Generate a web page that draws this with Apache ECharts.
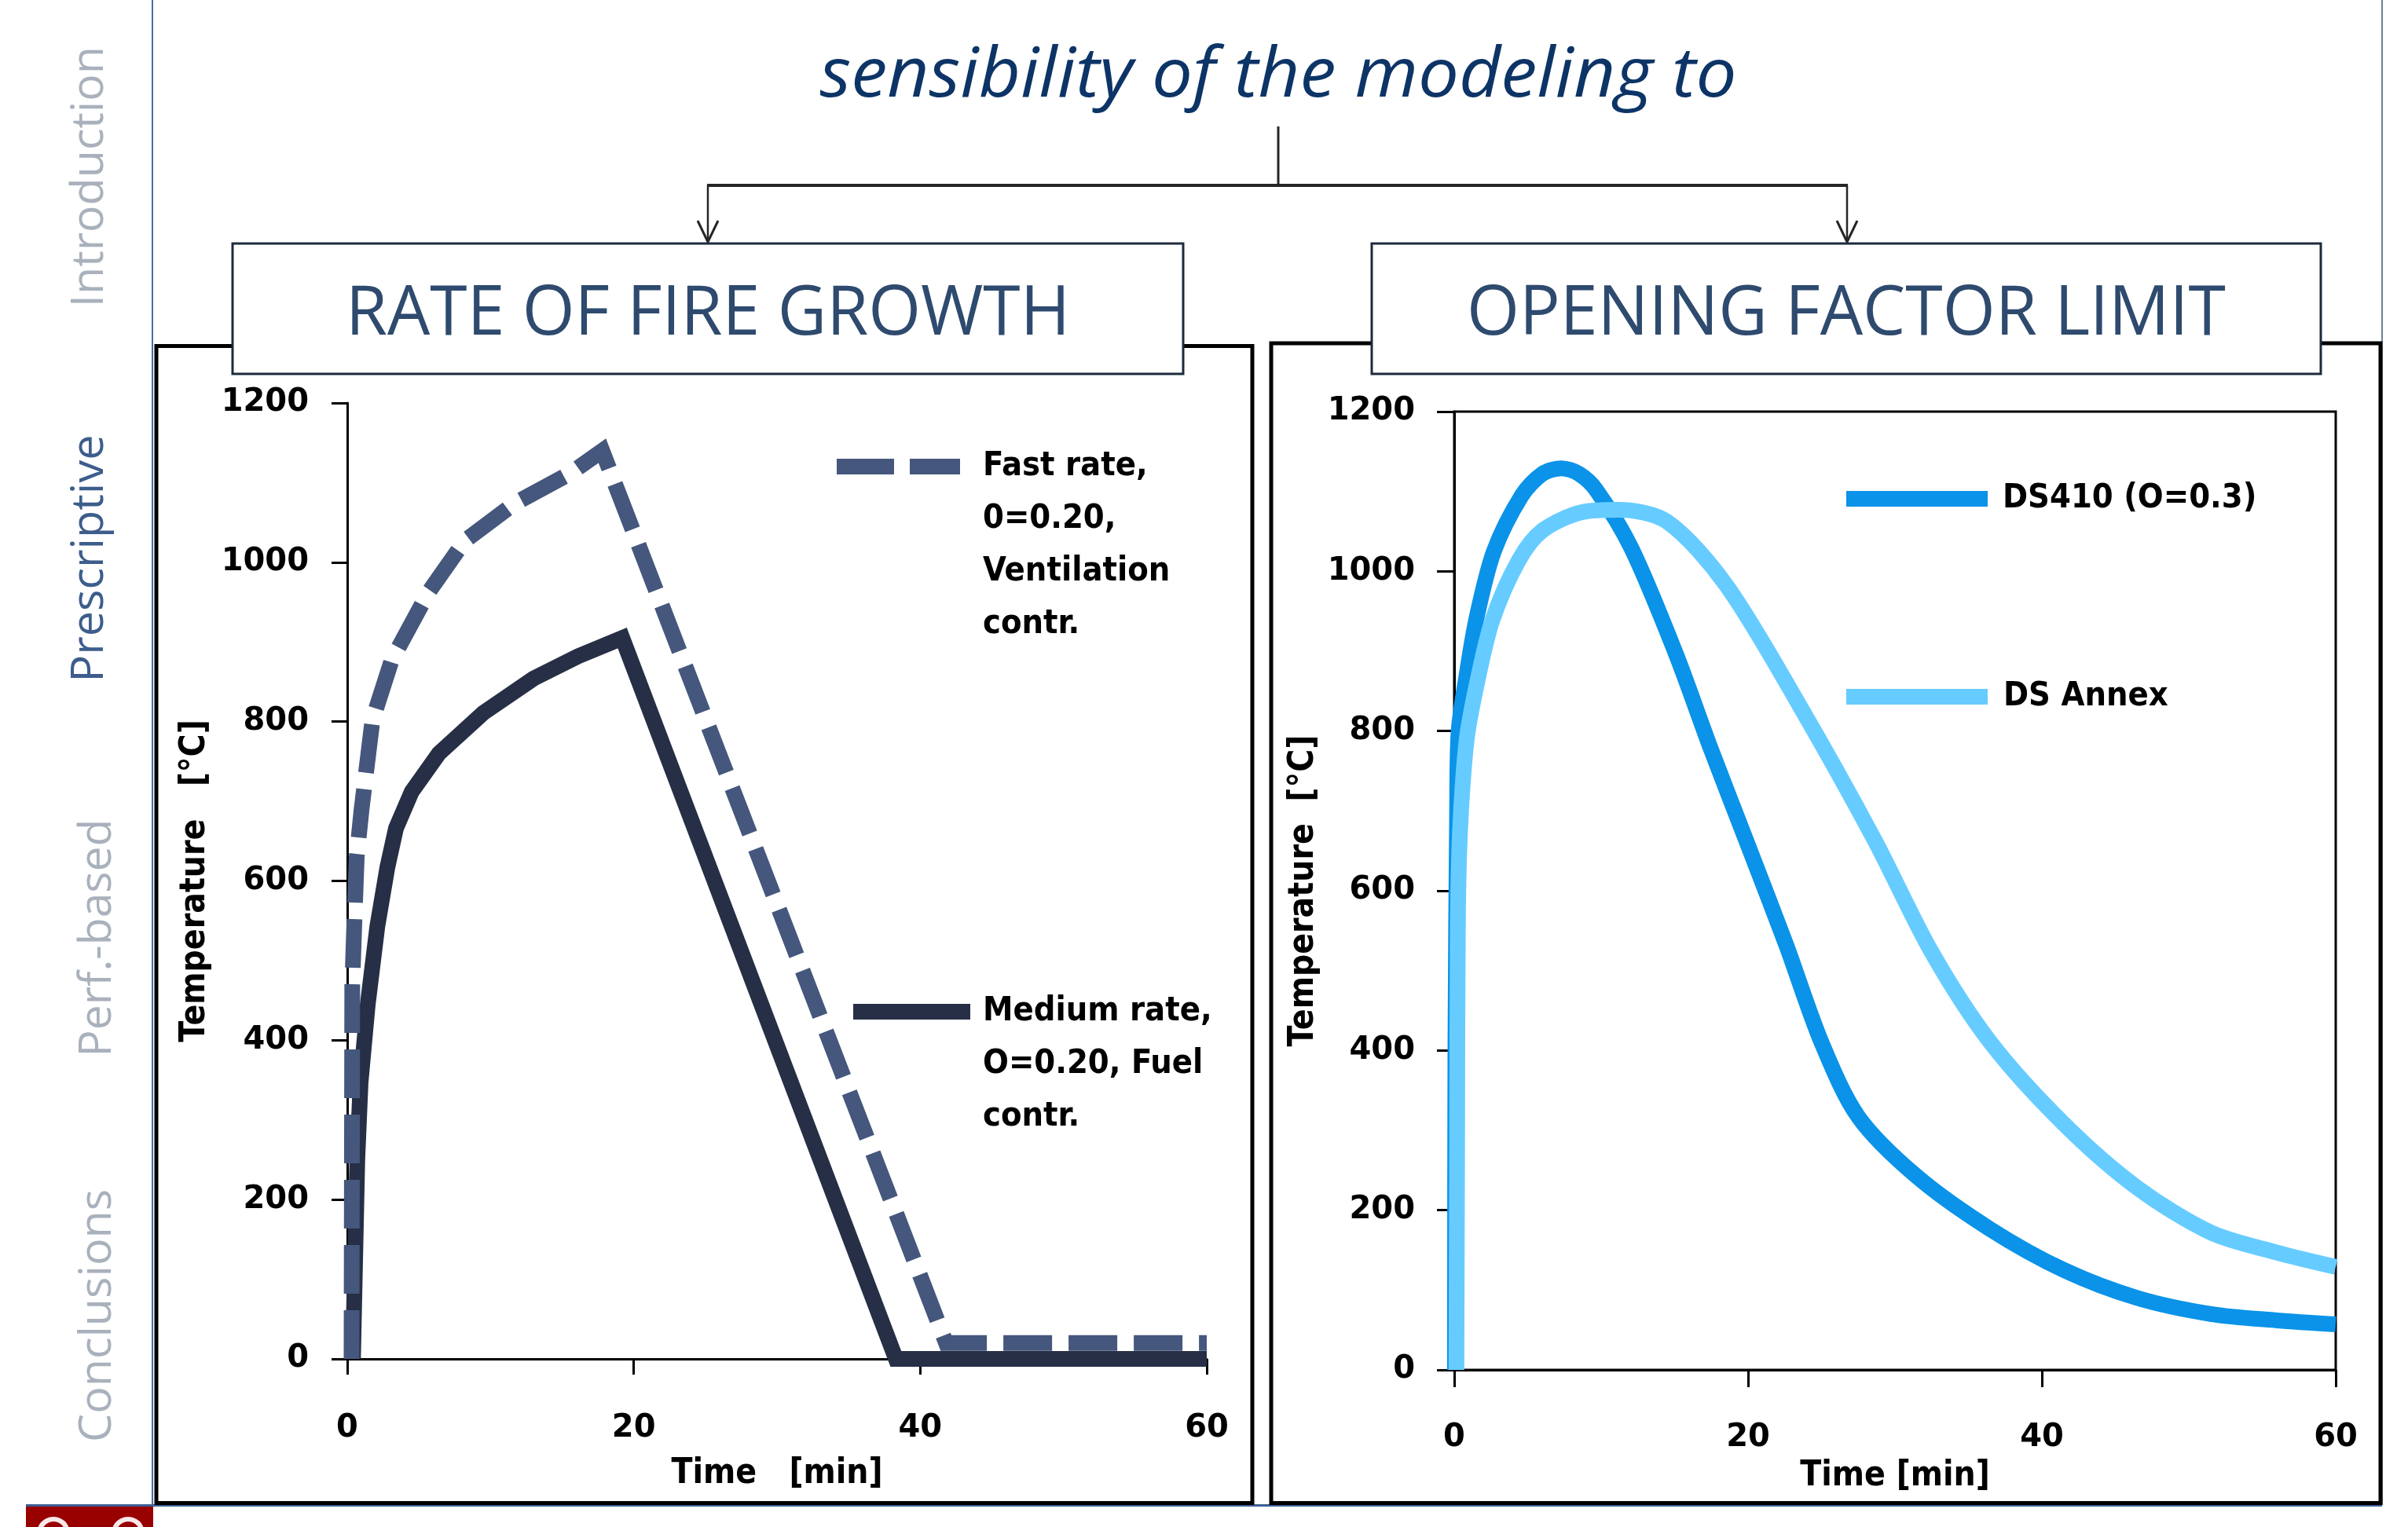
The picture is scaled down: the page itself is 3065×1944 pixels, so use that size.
<!DOCTYPE html>
<html>
<head>
<meta charset="utf-8">
<title>sensibility of the modeling to</title>
<script src="https://cdn.jsdelivr.net/npm/echarts@6/dist/echarts.min.js"></script>
<style>
  html, body { margin: 0; padding: 0; background: #fff; }
  #chart { width: 3065px; height: 1944px; }
</style>
</head>
<body>
<div id="chart"></div>
<script>
// RATE OF FIRE GROWTH (left chart), time in min, temperature in °C
const fastTime = [0.3, 0.35, 0.5, 0.66, 1.0, 1.76, 3.1, 5.66, 8.2, 11.7, 15.6, 17.8, 41.8, 60];
const fastTemp = [0, 470, 550, 630, 690, 802, 877, 962, 1027, 1074, 1112, 1140, 20, 20];
const mediumTime = [0.4, 0.7, 0.93, 1.43, 2.1, 2.8, 3.4, 4.5, 6.4, 9.5, 13.0, 16.1, 19.2, 38.3, 60];
const mediumTemp = [0, 250, 347, 445, 543, 617, 666, 712, 760, 811, 854, 882, 905, 0, 0];

// OPENING FACTOR LIMIT (right chart)
const ds410Time = [0.05, 0.08, 0.2, 0.3, 0.84, 1.5, 2.7, 4.6, 6, 7.3, 8.5, 9.7, 12.06, 15.06, 17.5, 20.06, 22.6, 25, 27.5, 31.5, 36.5, 41.5, 46.5, 51.5, 56, 60];
const ds410Temp = [0, 400, 713, 800, 870, 940, 1025, 1095, 1122, 1129, 1122, 1101, 1029, 898, 776, 654, 532, 410, 317, 242, 176, 125, 90, 70, 62, 57];
const annexTime = [0.15, 0.2, 0.25, 0.4, 0.84, 1.55, 2.6, 4.4, 6.0, 8.7, 11.2, 14.5, 18.5, 23.5, 28.6, 32.5, 36.5, 41.5, 46.5, 51.5, 56, 60];
const annexTemp = [0, 300, 560, 676, 788, 860, 939, 1014, 1051, 1074, 1077, 1062, 983, 832, 664, 523, 410, 308, 228, 172, 147, 129];

const legendLabels = {
  fast: ['Fast rate,', '0=0.20,', 'Ventilation', 'contr.'],
  medium: ['Medium rate,', 'O=0.20, Fuel', 'contr.'],
  ds410: ['DS410 (O=0.3)'],
  annex: ['DS Annex']
};
const sideMenu = ['Introduction', 'Prescriptive', 'Perf.-based', 'Conclusions'];
const boxTitles = ['RATE OF FIRE GROWTH', 'OPENING FACTOR LIMIT'];
const slideTitle = 'sensibility of the modeling to';

const pairs = (xs, ys) => xs.map((x, i) => [x, ys[i]]);

const numFont = "'DejaVu Sans', sans-serif";
const condFont = "'DejaVu Sans Condensed', 'DejaVu Sans', sans-serif";

// slide texts are Calibri in the original, squeeze Open Sans to the same width
const measureCtx = document.createElement('canvas').getContext('2d');
function slideText(text, x, y, size, style, color, width, rotation) {
  const font = style + ' normal ' + size + "px 'Open Sans', sans-serif";
  measureCtx.font = font;
  return {
    type: 'text', x: x, y: y, rotation: rotation || 0,
    scaleX: width / measureCtx.measureText(text).width,
    style: { text: text, font: font, fill: color, align: 'center', verticalAlign: 'middle' }
  };
}

function axisX(grid, margin, name, nameGap, tick) {
  return {
    gridIndex: grid, type: 'value', min: 0, max: 60, interval: 20,
    axisLine: { show: true, onZero: false, lineStyle: { color: '#000', width: 3 } },
    axisTick: { show: true, length: tick, lineStyle: { color: '#000', width: 3 } },
    splitLine: { show: false },
    axisLabel: { margin: margin, color: '#000', fontFamily: numFont, fontWeight: 'bold', fontSize: 40,
      formatter: function (v) { return String(v); } },
    name: name, nameLocation: 'middle', nameGap: nameGap, nameMoveOverlap: false,
    nameTextStyle: { color: '#000', fontFamily: condFont, fontWeight: 'bold', fontSize: 44 }
  };
}
function axisY(grid, margin, name, nameGap, tick) {
  return {
    gridIndex: grid, type: 'value', min: 0, max: 1200, interval: 200,
    axisLine: { show: true, lineStyle: { color: '#000', width: 3 } },
    axisTick: { show: true, length: tick, lineStyle: { color: '#000', width: 3 } },
    splitLine: { show: false },
    axisLabel: { margin: margin, color: '#000', fontFamily: numFont, fontWeight: 'bold', fontSize: 40,
      formatter: function (v) { return String(v); } },
    name: name, nameLocation: 'middle', nameGap: nameGap, nameRotate: 90, nameMoveOverlap: false,
    nameTextStyle: { color: '#000', fontFamily: condFont, fontWeight: 'bold', fontSize: 44 }
  };
}
// legend text is centred on the icon, so blank lines on top put the first line next to it
function legendFor(name, iconLeft, iconMid, width, textLeft, dash) {
  const lines = legendLabels[name];
  const blockHeight = (2 * lines.length - 1) * 67;
  return {
    data: [name], left: iconLeft - 10, top: iconMid - blockHeight / 2, orient: 'vertical', padding: 0,
    itemWidth: width, itemHeight: 20, selectedMode: false,
    itemStyle: { opacity: 0 },
    lineStyle: { width: 20, type: dash || 'solid' },
    formatter: function () { return '\n'.repeat(lines.length - 1) + lines.join('\n'); },
    textStyle: {
      color: '#000', fontFamily: condFont, fontWeight: 'bold', fontSize: 43,
      lineHeight: 67, padding: [0, 0, 0, textLeft - iconLeft - width - 5]
    }
  };
}
function lineSeries(name, axis, data, color, dash, join, smooth) {
  return {
    name: name, type: 'line', xAxisIndex: axis, yAxisIndex: axis, data: data,
    symbol: 'none', showSymbol: false, clip: false, silent: true,
    smooth: smooth || false,
    emphasis: { disabled: true },
    itemStyle: { color: color },
    lineStyle: { color: color, width: 20, type: dash || 'solid', join: join || 'round' }
  };
}

var graphics = [
  // slide frame lines
  { type: 'line', shape: { x1: 194, y1: 0, x2: 194, y2: 1916 }, style: { stroke: '#4a6fa5', lineWidth: 2 } },
  { type: 'line', shape: { x1: 3032, y1: 0, x2: 3032, y2: 1916 }, style: { stroke: '#6f8196', lineWidth: 2 } },
  { type: 'line', shape: { x1: 33, y1: 1916.5, x2: 3032, y2: 1916.5 }, style: { stroke: '#3d5f94', lineWidth: 3 } },
  { type: 'rect', shape: { x: 33, y: 1918, width: 162, height: 26 }, style: { fill: '#990000' } },
  { type: 'arc', shape: { cx: 68, cy: 1952, r: 18, startAngle: Math.PI * 1.1, endAngle: Math.PI * 1.9 }, style: { stroke: '#fbe9e9', lineWidth: 6, fill: null } },
  { type: 'arc', shape: { cx: 163, cy: 1952, r: 18, startAngle: Math.PI * 1.1, endAngle: Math.PI * 1.9 }, style: { stroke: '#fbe9e9', lineWidth: 6, fill: null } },
  // chart frames
  { type: 'rect', shape: { x: 199, y: 440.5, width: 1395, height: 1473 }, style: { fill: null, stroke: '#000', lineWidth: 5 } },
  { type: 'rect', shape: { x: 1618, y: 437, width: 1412, height: 1476.5 }, style: { fill: null, stroke: '#000', lineWidth: 5 } },
  // connector
  { type: 'line', shape: { x1: 1627, y1: 161, x2: 1627, y2: 236 }, style: { stroke: '#262626', lineWidth: 3 } },
  { type: 'line', shape: { x1: 900, y1: 236, x2: 2352, y2: 236 }, style: { stroke: '#262626', lineWidth: 4 } },
  { type: 'line', shape: { x1: 901, y1: 236, x2: 901, y2: 307 }, style: { stroke: '#262626', lineWidth: 2.5 } },
  { type: 'line', shape: { x1: 2351, y1: 236, x2: 2351, y2: 307 }, style: { stroke: '#262626', lineWidth: 2.5 } },
  { type: 'polyline', shape: { points: [[888, 281], [901, 308], [914, 281]] }, style: { stroke: '#262626', lineWidth: 3, fill: null } },
  { type: 'polyline', shape: { points: [[2338, 281], [2351, 308], [2364, 281]] }, style: { stroke: '#262626', lineWidth: 3, fill: null } },
  // title boxes
  { type: 'rect', shape: { x: 296, y: 310, width: 1210, height: 166 }, style: { fill: '#fff', stroke: '#1c2b3c', lineWidth: 3 } },
  { type: 'rect', shape: { x: 1746, y: 310, width: 1208, height: 166 }, style: { fill: '#fff', stroke: '#1c2b3c', lineWidth: 3 } },
  slideText(boxTitles[0], 901, 401, 88, 'normal', '#2e4a6e', 922),
  slideText(boxTitles[1], 2350, 401, 88, 'normal', '#2e4a6e', 966),
  slideText(slideTitle, 1627, 98, 87, 'italic', '#0d3466', 1167),
  // side menu
  slideText(sideMenu[0], 115, 225, 56, 'normal', '#a9b1bc', 332, Math.PI / 2),
  slideText(sideMenu[1], 115, 711, 56, 'normal', '#3d5d8c', 315, Math.PI / 2),
  slideText(sideMenu[2], 125, 1194, 56, 'normal', '#a9b1bc', 303, Math.PI / 2),
  slideText(sideMenu[3], 125, 1675, 56, 'normal', '#a9b1bc', 322, Math.PI / 2)
];

var option = {
  animation: false,
  backgroundColor: '#fff',
  grid: [
    { left: 442, top: 513, width: 1094, height: 1217, outerBoundsMode: 'none' },
    { left: 1851, top: 524, width: 1122, height: 1220, outerBoundsMode: 'none',
      show: true, borderColor: '#000', borderWidth: 3, backgroundColor: 'transparent' }
  ],
  xAxis: [
    axisX(0, 69, 'Time   [min]', 125, 20),
    axisX(1, 67, 'Time [min]', 114, 22)
  ],
  yAxis: [
    axisY(0, 49, 'Temperature   [°C]', 171, 20),
    axisY(1, 50, 'Temperature  [°C]', 169, 22)
  ],
  legend: [
    legendFor('fast', 1065, 594, 157, 1251, [73, 20]),
    legendFor('medium', 1086, 1288, 149, 1251),
    legendFor('ds410', 2350, 635, 180, 2549),
    legendFor('annex', 2350, 887, 180, 2550)
  ],
  series: [
    lineSeries('medium', 0, pairs(mediumTime, mediumTemp), '#262f45', 'solid', 'miter'),
    lineSeries('fast', 0, pairs(fastTime, fastTemp), '#45577c', [62, 21], 'miter'),
    lineSeries('ds410', 1, pairs(ds410Time, ds410Temp), '#0a93e8', 'solid', 'round', 0.3),
    lineSeries('annex', 1, pairs(annexTime, annexTemp), '#66ccff', 'solid', 'round', 0.3)
  ],
  graphic: graphics
};

var myChart = echarts.init(document.getElementById('chart'));
myChart.setOption(option);
</script>
</body>
</html>
